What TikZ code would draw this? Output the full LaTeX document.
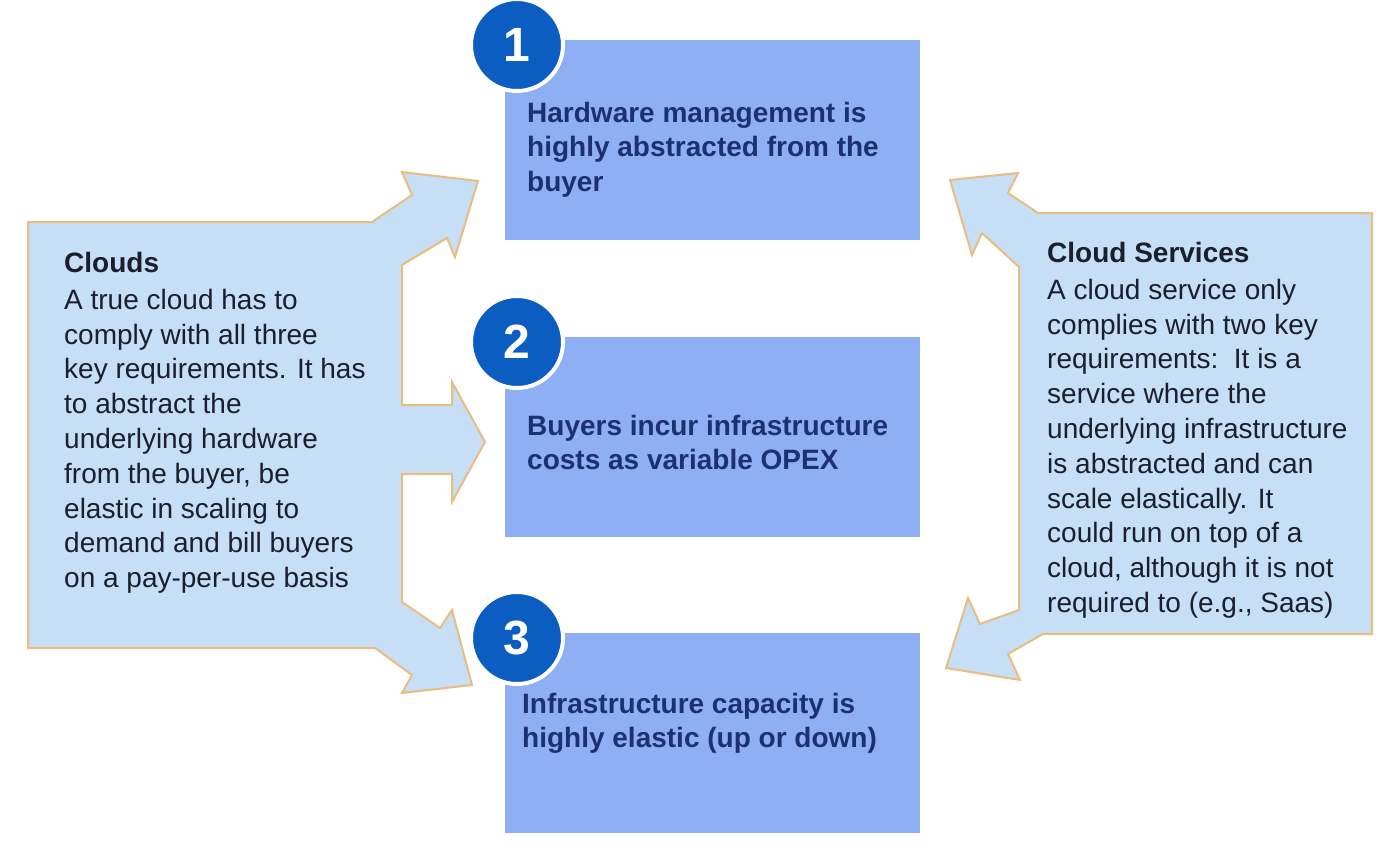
\documentclass[tikz,border=0pt]{standalone}
\usepackage{fontspec}
\setmainfont{Liberation Sans}
\usetikzlibrary{positioning}

\definecolor{boxblue}{HTML}{8EAFF4}
\definecolor{badgeblue}{HTML}{0B5DC2}
\definecolor{navytext}{HTML}{1B3170}
\definecolor{calloutfill}{HTML}{C6DEF6}
\definecolor{calloutline}{HTML}{E9BC80}
\definecolor{inktext}{HTML}{1A1F2E}

\tikzstyle{stepbox} = [
    rectangle,
    fill=boxblue,
    minimum width=415pt,
    minimum height=200pt,
    inner sep=0pt,
    anchor=north west
]
\tikzstyle{badge} = [
    circle,
    fill=badgeblue,
    draw=white,
    line width=4pt,
    minimum size=92pt,
    inner sep=0pt,
    text=white,
    font=\bfseries\fontsize{48}{48}\selectfont
]
\tikzstyle{steptext} = [
    anchor=north west,
    align=left,
    inner sep=0pt,
    text=navytext,
    font=\bfseries\fontsize{28}{34.5}\selectfont
]
\tikzstyle{callout} = [
    fill=calloutfill,
    draw=calloutline,
    line width=2pt,
    line join=miter
]
\tikzstyle{callouttext} = [
    anchor=north west,
    align=left,
    inner sep=0pt,
    text=inktext,
    font=\fontsize{28}{34.8}\selectfont
]

\begin{document}
\begin{tikzpicture}[x=1pt, y=-1pt]

\useasboundingbox (0,0) rectangle (1379,857);

% left callout with its three arrows
\draw [callout] (28,222) -- (372,222) -- (412,195) -- (402,172)
    -- (478,181) -- (455,257) -- (447,238) -- (402,265)
    -- (402,405) -- (452,405) -- (452,382) -- (485,442)
    -- (452,502) -- (452,474) -- (402,474)
    -- (402,602) -- (440,628) -- (452,610) -- (472,685)
    -- (402,693) -- (412,675) -- (375,648) -- (28,648) -- cycle;

% right callout with its two arrows
\draw [callout] (1038,213) -- (1372,213) -- (1372,634) -- (1043,634)
    -- (1008,654) -- (1020,680) -- (946,668) -- (968,598)
    -- (980,624) -- (1019,610)
    -- (1019,267) -- (982,233) -- (972,255) -- (950,180)
    -- (1018,173) -- (1008,193) -- cycle;

\node (step1) [stepbox] at (505,40) {};
\node (step2) [stepbox] at (505,337) {};
\node (step3) [stepbox] at (505,633) {};

\node (badge1) [badge] at (517,45) {1};
\node (badge2) [badge] at (517,342) {2};
\node (badge3) [badge] at (517,638) {3};

\node (text1) [steptext, below right=62pt and 22pt of step1.north west]
{Hardware management is\\highly abstracted from the\\buyer};
\node (text2) [steptext, below right=78pt and 22pt of step2.north west]
{Buyers incur infrastructure\\costs as variable OPEX};
\node (text3) [steptext, below right=60pt and 17pt of step3.north west]
{Infrastructure capacity is\\highly elastic (up or down)};

\node (clouds) [callouttext] at (64,252)
{\textbf{Clouds}\\[2pt]
A true cloud has to\\
comply with all three\\
key requirements. It has\\
to abstract the\\
underlying hardware\\
from the buyer, be\\
elastic in scaling to\\
demand and bill buyers\\
on a pay-per-use basis};

\node (services) [callouttext] at (1047,242)
{\textbf{Cloud Services}\\[2pt]
A cloud service only\\
complies with two key\\
requirements:\ \ It is a\\
service where the\\
underlying infrastructure\\
is abstracted and can\\
scale elastically. It\\
could run on top of a\\
cloud, although it is not\\
required to (e.g., Saas)};

\end{tikzpicture}
\end{document}
